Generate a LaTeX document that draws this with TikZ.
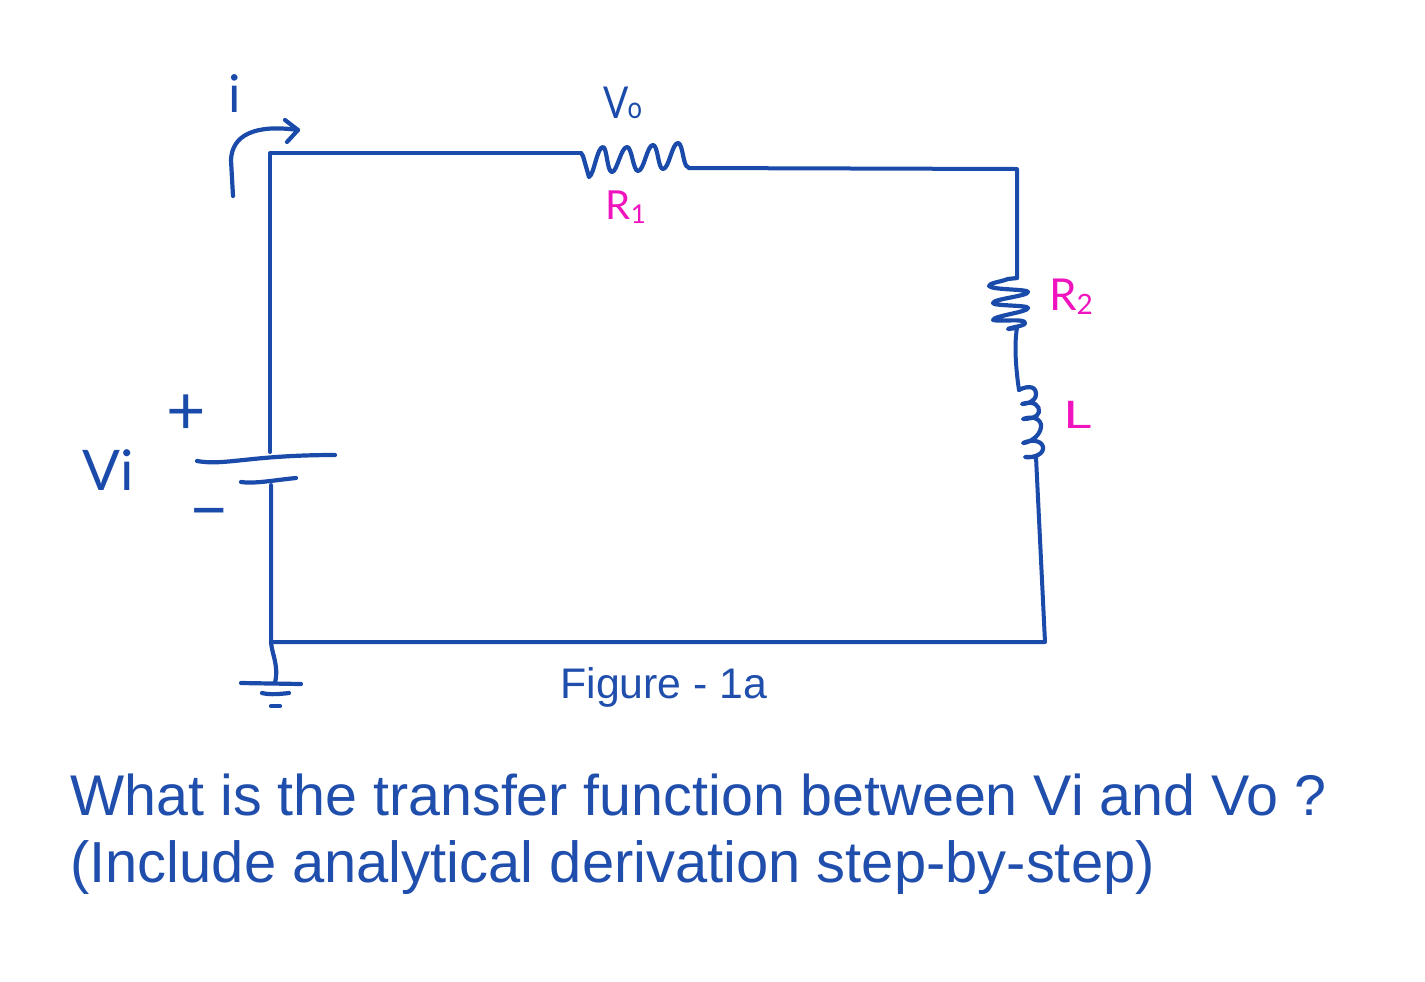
\documentclass[tikz,border=0pt]{standalone}
\usepackage{fontspec}
\setmainfont{Liberation Sans}
\newfontfamily\handfont{Lato}
\definecolor{inkblue}{RGB}{27,75,170}
\definecolor{inkpink}{RGB}{240,20,190}
\definecolor{textblue}{RGB}{32,78,172}
\tikzset{
  wire/.style={draw=inkblue,line width=2pt,line join=round,line cap=round},
  pen/.style={draw=inkblue,line width=2.1pt,line join=round,line cap=round},
  handblue/.style={text=inkblue,inner sep=0pt},
  handpink/.style={text=inkpink,inner sep=0pt},
  caption/.style={text=textblue,inner sep=0pt,anchor=base west},
}
\begin{document}
\begin{tikzpicture}[x=0.5pt,y=-0.5pt]
\useasboundingbox (0,0) rectangle (1425,981);
% named junctions
\coordinate (tl) at (270,153);
\coordinate (r1a) at (581,153);
\coordinate (r1b) at (689,168);
\coordinate (tr) at (1017,169);
\coordinate (r2a) at (1017,278);
\coordinate (r2b) at (1017,328);
\coordinate (la) at (1019,390);
\coordinate (lb) at (1036,457);
\coordinate (br) at (1045,642);
\coordinate (bl) at (271,642);
\coordinate (batp) at (270,452);
\coordinate (batm) at (271,485);
\coordinate (gnd) at (275,683);
\coordinate (p1a) at (197,461);
\coordinate (p1b) at (335,455);
\coordinate (p2a) at (241,482);
\coordinate (p2b) at (296,478);
\coordinate (g1a) at (241,683);
\coordinate (g1b) at (301,684);
\coordinate (g2a) at (262,693);
\coordinate (g2b) at (289,693);
\coordinate (g3a) at (271,706);
\coordinate (g3b) at (280,706);
\coordinate (ia) at (233,196);
\coordinate (ib) at (298,130);
% wires
\draw[wire] (batp) -- (tl) -- (r1a);
\draw[wire] (r1b) -- (tr) -- (r2a);
\draw[wire] (lb) -- (br) -- (bl) -- (batm);
\draw[wire] (r2b) .. controls (1014,345) and (1016,370) .. (la);
% R1
\draw[pen] (r1a) -- (583,156) -- (589,177)
  .. controls (594,175) and (597,147) .. (603,147)
  .. controls (607,147) and (607,172) .. (612,172)
  .. controls (617,172) and (621,147) .. (627,147)
  .. controls (632,147) and (633,171) .. (638,171)
  .. controls (644,171) and (647,145) .. (653,145)
  .. controls (658,145) and (658,169) .. (663,169)
  .. controls (669,169) and (672,143) .. (678,143)
  .. controls (683,143) and (683,167) .. (688,167) -- (r1b);
% R2
\draw[pen] (r2a) -- (1008,279)
  .. controls (1000,282) and (989,283) .. (989,286)
  .. controls (992,290) and (1028,289) .. (1028,292)
  .. controls (1028,296) and (993,299) .. (993,303)
  .. controls (993,306) and (1028,305) .. (1028,308)
  .. controls (1028,312) and (993,316) .. (993,320)
  .. controls (1000,322) and (1025,318) .. (1025,323)
  .. controls (1025,326) and (1012,327) .. (1008,329) -- (r2b);
% L
\draw[pen] (la) .. controls (1024,387) and (1036,384) .. (1036,394)
  .. controls (1036,402) and (1026,404) .. (1022,404)
  .. controls (1034,400) and (1040,406) .. (1039,412)
  .. controls (1038,418) and (1028,419) .. (1023,419)
  .. controls (1034,415) and (1042,420) .. (1041,427)
  .. controls (1040,437) and (1028,443) .. (1023,443)
  .. controls (1034,438) and (1044,442) .. (1043,449)
  .. controls (1042,456) and (1030,458) .. (1025,457) -- (lb);
% battery
\draw[pen] (p1a) .. controls (225,466) and (250,455) .. (p1b);
\draw[pen] (p2a) .. controls (255,484) and (275,480) .. (p2b);
% ground
\draw[pen] (bl) .. controls (272,655) and (279,665) .. (gnd);
\draw[pen] (g1a) -- (g1b);
\draw[pen] (g2a) .. controls (270,695) and (280,694) .. (g2b);
\draw[pen] (g3a) -- (g3b);
% current arrow
\draw[pen] (ia) -- (231,160) .. controls (232,135) and (255,124) .. (ib);
\coordinate (ih1) at (285,120);
\coordinate (ih2) at (287,142);
\draw[pen] (ih1) -- (ib) -- (ih2);
% labels
\node[handblue,font=\handfont\fontsize{26}{26}\selectfont] (lbli) at (235,94) {i};
\node[handblue,font=\handfont\fontsize{22}{22}\selectfont,xscale=0.85] (lblvo) at (623,103) {V\kern-1pt{\fontsize{15}{15}\selectfont o}};
\node[handpink,font=\handfont\fontsize{20}{20}\selectfont] (lblr1) at (626,207) {R\raisebox{-2pt}{\fontsize{13}{13}\selectfont 1}};
\node[handpink,font=\handfont\fontsize{22}{22}\selectfont] (lblr2) at (1071,297) {R\raisebox{-2pt}{\fontsize{14}{14}\selectfont 2}};
\node[handpink,font=\handfont\fontsize{19}{19}\selectfont,xscale=1.45] (lbll) at (1078,415) {L};
\node[handblue,font=\handfont\fontsize{28}{28}\selectfont] (lblvi) at (108,470) {Vi};
\node[handblue,font=\handfont\fontsize{34}{34}\selectfont] (lblp) at (186,415) {+};
\node[handblue,font=\handfont\fontsize{34}{34}\selectfont] (lblm) at (209,521) {−};
\node[caption,font=\fontsize{21.4}{21.4}\selectfont] (fig) at (560,698) {Figure - 1a};
\node[caption,font=\fontsize{28.7}{28.7}\selectfont] (q1) at (70,815) {What is the transfer function between Vi and Vo ?};
\node[caption,font=\fontsize{28.95}{28.95}\selectfont] (q2) at (70,882) {(Include analytical derivation step-by-step)};
\end{tikzpicture}
\end{document}
